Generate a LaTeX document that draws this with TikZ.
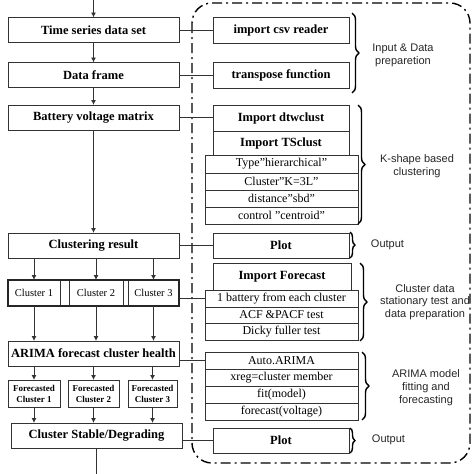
\documentclass[tikz,border=0pt]{standalone}
\usepackage{fontspec}
\setmainfont{Liberation Serif}
\newfontfamily\lsans{Liberation Sans}
\usetikzlibrary{arrows.meta,decorations.pathreplacing}
\begin{document}
\begin{tikzpicture}[x=1pt,y=-1pt,
 every node/.style={inner sep=0pt, outer sep=0pt},
 lbox/.style={draw=black!80, line width=0.8pt, fill=white, minimum width=171pt, minimum height=25pt, font=\fontsize{12.5}{14}\selectfont\bfseries},
 rbox/.style={draw=black!80, line width=0.8pt, fill=white, minimum width=136pt, minimum height=26pt, font=\fontsize{12.5}{14}\selectfont\bfseries},
 rrow/.style={draw=black!80, line width=0.8pt, fill=white, minimum width=153pt, minimum height=17pt, font=\fontsize{12}{14}\selectfont},
 cbox/.style={draw=black!80, line width=0.8pt, fill=white, minimum height=26pt, font=\fontsize{10.5}{12}\selectfont},
 fbox/.style={draw=black!80, line width=0.8pt, fill=white, minimum height=27pt, align=center, font=\fontsize{9}{11}\selectfont\bfseries},
 conn/.style={draw=black!80, line width=0.9pt},
 arr/.style={conn, -{Latex[length=5pt,width=5pt]}},
 brc/.style={draw=black, line width=1.4pt, decorate, decoration={brace, amplitude=#1}},
 brc/.default=7pt,
 lab/.style={font=\lsans\fontsize{11}{12.7}\selectfont, align=center, text=black!85},
 frame/.style={draw=black, line width=1.4pt, dash pattern=on 10pt off 4pt on 2pt off 4pt, rounded corners=20pt},
 ]
\useasboundingbox (0,0) rectangle (474,474);
% dash-dot frame
\draw[frame] (192,3) rectangle (470,463);

% left column
\coordinate (top) at (93.5,0);
\node[lbox] (ts) at (93.5,30) {Time series data set};
\node[lbox] (df) at (93.5,75) {Data frame};
\node[lbox] (bvm) at (93.5,117.5) {Battery voltage matrix};
\node[lbox] (cr) at (93.5,245.5) {Clustering result};
\node[draw=black!85, line width=1.8pt, minimum width=171pt, minimum height=26pt] (crow) at (93.5,293) {};
\node[cbox, minimum width=52pt] (c1) at (34,293) {Cluster 1};
\node[cbox, minimum width=54pt] (c2) at (96,293) {Cluster 2};
\node[cbox, minimum width=51pt] (c3) at (153.5,293) {Cluster 3};
\draw[black!85, line width=1.8pt] (crow.north west) rectangle (crow.south east);
\node[lbox] (ar) at (93.5,353.5) {ARIMA forecast cluster health};
\node[fbox, minimum width=52pt] (f1) at (34,393.5) {Forecasted\\Cluster 1};
\node[fbox, minimum width=51pt] (f2) at (93.5,393.5) {Forecasted\\Cluster 2};
\node[fbox, minimum width=49pt] (f3) at (152.5,393.5) {Forecasted\\Cluster 3};
\node[lbox] (cs) at (96.5,435.5) {Cluster Stable/Degrading};
\coordinate (bot) at (96.5,474);

\draw[arr] (top) -- (ts.north);
\draw[arr] (ts.south) -- (df.north);
\draw[arr] (df.south) -- (bvm.north);
\draw[arr] (bvm.south) -- (cr.north);
\draw[arr] (c1 |- cr.south) -- (c1.north);
\draw[arr] (c2 |- cr.south) -- (c2.north);
\draw[arr] (c3 |- cr.south) -- (c3.north);
\draw[arr] (c1.south) -- (c1 |- ar.north);
\draw[arr] (c2.south) -- (c2 |- ar.north);
\draw[arr] (c3.south) -- (c3 |- ar.north);
\draw[arr] (f1 |- ar.south) -- (f1.north);
\draw[arr] (f2 |- ar.south) -- (f2.north);
\draw[arr] (f3 |- ar.south) -- (f3.north);
\draw[arr] (f1.south) -- (f1 |- cs.north);
\draw[arr] (f2.south) -- (f2 |- cs.north);
\draw[arr] (f3.south) -- (f3 |- cs.north);
\draw[conn] (cs.south) -- (bot);

% right column
\node[rbox] (ic) at (281,30) {import csv reader};
\node[rbox] (tf) at (281,75) {transpose function};
\node[rbox] (dtw) at (281,118) {Import dtwclust};
\node[rbox, minimum height=24pt] (tsc) at (281,143) {Import TSclust};
\node[rrow, minimum height=18pt] (r1) at (281.5,164) {Type"hierarchical"};
\node[rrow] (r2) at (281.5,181.5) {Cluster"K=3L"};
\node[rrow] (r3) at (281.5,198.5) {distance"sbd"};
\node[rrow] (r4) at (281.5,215.5) {control "centroid"};
\node[rbox, minimum height=25pt] (p1) at (281,245.5) {Plot};
\node[rbox, minimum width=138pt, minimum height=27pt] (imf) at (282,276.5) {Import Forecast};
\node[rrow] (b1) at (281.5,298.5) {1 battery from each cluster};
\node[rrow, minimum height=16pt] (acf) at (281.5,315) {ACF \&PACF test};
\node[rrow] (dk) at (281.5,331.5) {Dicky fuller test};
\node[rrow] (aa) at (281.5,360.5) {Auto.ARIMA};
\node[rrow] (xr) at (281.5,377.5) {xreg=cluster member};
\node[rrow] (fm) at (281.5,394.5) {fit(model)};
\node[rrow] (fv) at (281.5,411.5) {forecast(voltage)};
\node[rbox, minimum height=25pt] (p2) at (281,440.5) {Plot};

% horizontal connectors
\draw[conn] (ts.east) -- (ic.west);
\draw[conn] (df.east) -- (tf.west);
\draw[conn] (bvm.east) -- (dtw.west |- bvm.east);
\draw[conn] (cr.east) -- (p1.west);
\draw[conn] (crow.east |- b1) -- (b1.west);
\draw[conn] (ar.east |- aa) -- (aa.west);
\draw[conn] (cs.east |- p2) -- (p2.west);

% braces
\draw[brc] (352,13) -- (352,93);
\draw[brc] (358,105) -- (358,224);
\draw[brc=5pt] (350,232) -- (350,258);
\draw[brc] (360,263) -- (360,341);
\draw[brc] (362,352) -- (362,420);
\draw[brc=5pt] (350,428) -- (350,453);

% labels
\node[lab] (l1) at (403,55) {Input \& Data\\preparetion};
\node[lab] (l2) at (417,166) {K-shape based\\clustering};
\node[lab] (l3) at (387.5,245) {Output};
\node[lab] (l4) at (425,302) {Cluster data\\stationary test and\\data preparation};
\node[lab] (l5) at (426,387.5) {ARIMA model\\fitting and\\forecasting};
\node[lab] (l6) at (388.5,440) {Output};
\end{tikzpicture}
\end{document}
